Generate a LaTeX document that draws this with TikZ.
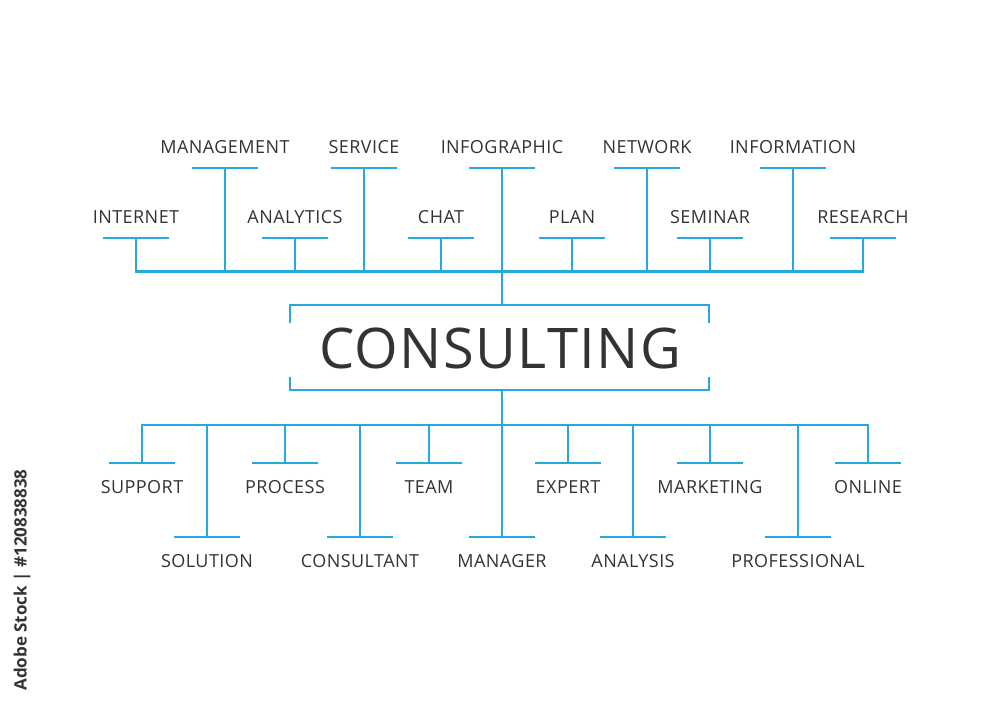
\documentclass[tikz,border=0pt]{standalone}
\usepackage{fontspec}
\setmainfont{Open Sans}
\newfontfamily\spacedfont[LetterSpace=2.5]{Open Sans}
\usetikzlibrary{positioning}
\definecolor{linkblue}{RGB}{41,168,224}
\definecolor{inkgray}{RGB}{51,51,51}

\begin{document}
\begin{tikzpicture}[x=1pt, y=-1pt,
    link/.style={draw=linkblue, line width=2.2pt},
    bar/.style={fill=linkblue, minimum width=66pt, minimum height=2.2pt,
      inner sep=0pt, outer sep=0pt},
    lbl/.style={text=inkgray, font=\spacedfont\fontsize{18}{20}\selectfont, inner sep=0pt},
    title/.style={text=inkgray, font=\spacedfont\fontsize{56}{60}\selectfont, inner sep=0pt}]
    \useasboundingbox (0,0) rectangle (1000,707);

    % Szyny
    \coordinate (bus-top) at (0,271.5);
    \coordinate (bus-bot) at (0,425);

    % Ramka
    \node[title] (consulting) at (500,348) {CONSULTING};
    \coordinate (box-nw) at (290,305);
    \coordinate (box-ne) at (709,305);
    \coordinate (box-sw) at (290,390);
    \coordinate (box-se) at (709,390);
    \draw[link] ([yshift=-18pt]box-nw) -- (box-nw) -- (box-ne) -- ([yshift=-18pt]box-ne);
    \draw[link] ([yshift=13pt]box-sw) -- (box-sw) -- (box-se) -- ([yshift=13pt]box-se);

    % Gorny rzad, wyzej
    \node[bar] (management-bar) at (225,168) {};
    \node[bar] (service-bar) at (364,168) {};
    \node[bar] (infographic-bar) at (502,168) {};
    \node[bar] (network-bar) at (647,168) {};
    \node[bar] (information-bar) at (793,168) {};

    \node[lbl, above=13.5pt of management-bar] (management) {MANAGEMENT};
    \node[lbl, above=13.5pt of service-bar] (service) {SERVICE};
    \node[lbl, above=13.5pt of infographic-bar] (infographic) {INFOGRAPHIC};
    \node[lbl, above=13.5pt of network-bar] (network) {NETWORK};
    \node[lbl, above=13.5pt of information-bar] (information) {INFORMATION};

    % Gorny rzad, nizej
    \node[bar] (internet-bar) at (136,238) {};
    \node[bar] (analytics-bar) at (295,238) {};
    \node[bar] (chat-bar) at (441,238) {};
    \node[bar] (plan-bar) at (572,238) {};
    \node[bar] (seminar-bar) at (710,238) {};
    \node[bar] (research-bar) at (863,238) {};

    \node[lbl, above=13.5pt of internet-bar] (internet) {INTERNET};
    \node[lbl, above=13.5pt of analytics-bar] (analytics) {ANALYTICS};
    \node[lbl, above=13.5pt of chat-bar] (chat) {CHAT};
    \node[lbl, above=13.5pt of plan-bar] (plan) {PLAN};
    \node[lbl, above=13.5pt of seminar-bar] (seminar) {SEMINAR};
    \node[lbl, above=13.5pt of research-bar] (research) {RESEARCH};

    % Gorne polaczenia
    \draw[link] (internet-bar) -- (internet-bar |- bus-top)
      -- (research-bar |- bus-top) -- (research-bar);
    \draw[link] (management-bar) -- (management-bar |- bus-top);
    \draw[link] (analytics-bar) -- (analytics-bar |- bus-top);
    \draw[link] (service-bar) -- (service-bar |- bus-top);
    \draw[link] (chat-bar) -- (chat-bar |- bus-top);
    \draw[link] (infographic-bar) -- (infographic-bar |- box-nw);
    \draw[link] (plan-bar) -- (plan-bar |- bus-top);
    \draw[link] (network-bar) -- (network-bar |- bus-top);
    \draw[link] (seminar-bar) -- (seminar-bar |- bus-top);
    \draw[link] (information-bar) -- (information-bar |- bus-top);

    % Dolny rzad, wyzej
    \node[bar] (support-bar) at (142,463) {};
    \node[bar] (process-bar) at (285,463) {};
    \node[bar] (team-bar) at (429,463) {};
    \node[bar] (expert-bar) at (568,463) {};
    \node[bar] (marketing-bar) at (710,463) {};
    \node[bar] (online-bar) at (868,463) {};

    \node[lbl, below=16pt of support-bar] (support) {SUPPORT};
    \node[lbl, below=16pt of process-bar] (process) {PROCESS};
    \node[lbl, below=16pt of team-bar] (team) {TEAM};
    \node[lbl, below=16pt of expert-bar] (expert) {EXPERT};
    \node[lbl, below=16pt of marketing-bar] (marketing) {MARKETING};
    \node[lbl, below=16pt of online-bar] (online) {ONLINE};

    % Dolny rzad, nizej
    \node[bar] (solution-bar) at (207,537) {};
    \node[bar] (consultant-bar) at (360,537) {};
    \node[bar] (manager-bar) at (502,537) {};
    \node[bar] (analysis-bar) at (633,537) {};
    \node[bar] (professional-bar) at (798,537) {};

    \node[lbl, below=16pt of solution-bar] (solution) {SOLUTION};
    \node[lbl, below=16pt of consultant-bar] (consultant) {CONSULTANT};
    \node[lbl, below=16pt of manager-bar] (manager) {MANAGER};
    \node[lbl, below=16pt of analysis-bar] (analysis) {ANALYSIS};
    \node[lbl, below=16pt of professional-bar] (professional) {PROFESSIONAL};

    % Dolne polaczenia
    \draw[link] (support-bar) -- (support-bar |- bus-bot)
      -- (online-bar |- bus-bot) -- (online-bar);
    \draw[link] (solution-bar) -- (solution-bar |- bus-bot);
    \draw[link] (process-bar) -- (process-bar |- bus-bot);
    \draw[link] (consultant-bar) -- (consultant-bar |- bus-bot);
    \draw[link] (team-bar) -- (team-bar |- bus-bot);
    \draw[link] (manager-bar) -- (manager-bar |- box-sw);
    \draw[link] (expert-bar) -- (expert-bar |- bus-bot);
    \draw[link] (analysis-bar) -- (analysis-bar |- bus-bot);
    \draw[link] (marketing-bar) -- (marketing-bar |- bus-bot);
    \draw[link] (professional-bar) -- (professional-bar |- bus-bot);

    % Podpis
    \node[rotate=90, text=inkgray, font=\fontsize{17}{19}\selectfont\bfseries,
      inner sep=0pt] (stockid) at (22,580) {Adobe Stock | \#120838838};
\end{tikzpicture}
\end{document}
